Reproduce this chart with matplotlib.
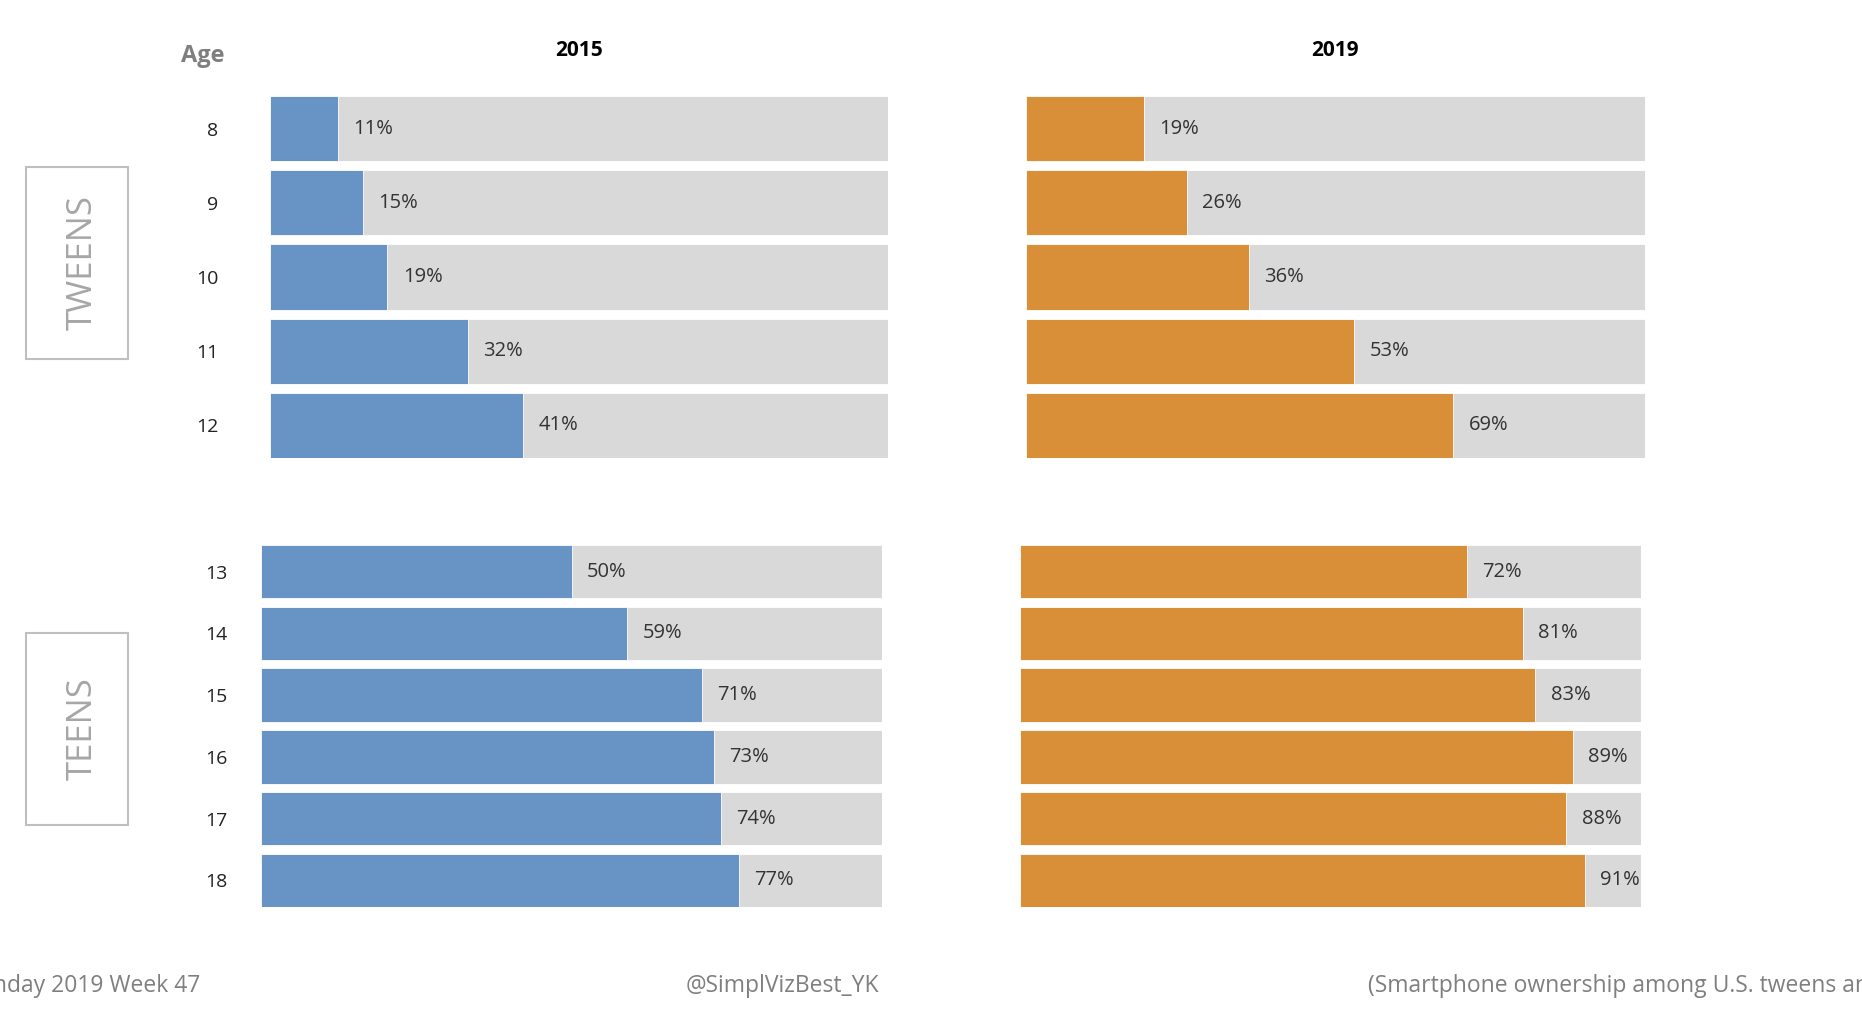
import matplotlib.pyplot as plt
from matplotlib.patches import Rectangle

plt.rcParams["font.family"] = ["Open Sans", "DejaVu Sans"]

tween_ages = ["8", "9", "10", "11", "12"]
tween_2015 = [11, 15, 19, 32, 41]
tween_2019 = [19, 26, 36, 53, 69]

teen_ages = ["13", "14", "15", "16", "17", "18"]
teen_2015 = [50, 59, 71, 73, 74, 77]
teen_2019 = [72, 81, 83, 89, 88, 91]

BLUE = "#6793C5"
ORANGE = "#D88F38"
GRAY = "#D9D9D9"

W, H = 1862, 1010
fig = plt.figure(figsize=(W / 100, H / 100), dpi=100)


def px_axes(x0, y0, x1, y1):
    return fig.add_axes([x0 / W, 1 - y1 / H, (x1 - x0) / W, (y1 - y0) / H])


def panel(ax, ages, vals, color, bar_h, show_ages, tick_pad):
    n = len(vals)
    pos = list(range(n))
    ax.barh(pos, [100] * n, height=bar_h, color=GRAY, edgecolor="white", linewidth=0.6)
    ax.barh(pos, vals, height=bar_h, color=color, edgecolor="white", linewidth=0.6)
    for p, v in zip(pos, vals):
        ax.annotate(f"{v}%", (v, p), xytext=(11, 0), textcoords="offset points",
                    va="center", ha="left", fontsize=14.5, color="#333333")
    ax.set_xlim(0, 100)
    ax.set_ylim(n - 1 + bar_h / 2, -bar_h / 2)
    ax.set_xticks([])
    if show_ages:
        ax.set_yticks(pos, ages)
        ax.tick_params(axis="y", length=0, pad=tick_pad, labelsize=14, labelcolor="#222222")
    else:
        ax.set_yticks([])
    for s in ax.spines.values():
        s.set_visible(False)


ax1 = px_axes(270, 96, 888, 458)
panel(ax1, tween_ages, tween_2015, BLUE, 0.88, True, 37)
ax2 = px_axes(1026, 96, 1645, 458)
panel(ax2, tween_ages, tween_2019, ORANGE, 0.88, False, 0)
ax3 = px_axes(261, 545, 882, 907)
panel(ax3, teen_ages, teen_2015, BLUE, 0.865, True, 24)
ax4 = px_axes(1020, 545, 1641, 907)
panel(ax4, teen_ages, teen_2019, ORANGE, 0.865, False, 0)

fig.text(203 / W, 1 - 56 / H, "Age", ha="center", va="center",
         fontsize=17, fontweight="bold", color="#7F7F7F")
fig.text(579 / W, 1 - 51 / H, "2015", ha="center", va="center",
         fontsize=15, fontweight="bold", color="black")
fig.text(1335 / W, 1 - 51 / H, "2019", ha="center", va="center",
         fontsize=15, fontweight="bold", color="black")

for label, y0, y1 in [("TWEENS", 167, 359), ("TEENS", 633, 825)]:
    fig.patches.append(Rectangle((26 / W, 1 - y1 / H), 102 / W, (y1 - y0) / H,
                                 transform=fig.transFigure, fill=False,
                                 edgecolor="#BFBFBF", linewidth=1.5))
    fig.text(83 / W, 1 - (y0 + y1) / 2 / H, label, rotation=90, ha="center",
             va="center", fontsize=25, color="#A6A6A6")

fig.text(200 / W, 1 - 986 / H, "#MakeoverMonday 2019 Week 47", ha="right",
         va="center", fontsize=16.5, color="#7F7F7F")
fig.text(879 / W, 1 - 986 / H, "@SimplVizBest_YK", ha="right",
         va="center", fontsize=16.5, color="#7F7F7F")
fig.text(1368 / W, 1 - 986 / H,
         "(Smartphone ownership among U.S. tweens and teens, 2015 vs 2019)",
         ha="left", va="center", fontsize=16.5, color="#7F7F7F")

fig.savefig("out.png", dpi=100)
